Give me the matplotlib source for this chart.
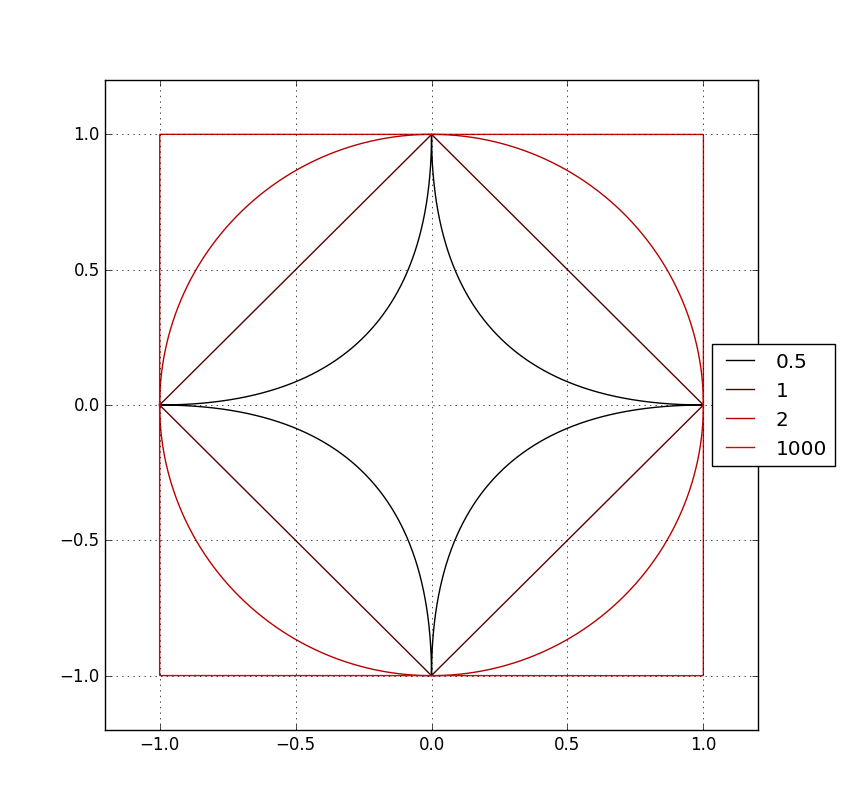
import numpy as np
import matplotlib
matplotlib.use("Agg")
from matplotlib import pyplot as plt

plt.style.use('classic')

# norm orders and their line colours
p_values = [0.5, 1, 2, 1000]
labels = ['0.5', '1', '2', '1000']
colors = ['#000000', '#580000', '#b80000', '#dd0000']

fig = plt.figure(figsize=(8.42, 8.12), dpi=100, facecolor='white')
ax = fig.add_subplot(111)

# unit ball boundary |x|^p + |y|^p = 1
x = np.sin(np.linspace(-np.pi / 2, np.pi / 2, 40001))
for p, lab, c in zip(p_values, labels, colors):
    y = np.clip(1 - np.abs(x) ** p, 0, None) ** (1.0 / p)
    xs = np.concatenate([x, x[::-1]])
    ys = np.concatenate([y, -y[::-1]])
    ax.plot(xs, ys, color=c, label=lab, linewidth=1.0)

ax.set_xlim(-1.2, 1.2)
ax.set_ylim(-1.2, 1.2)
ax.set_xticks([-1.0, -0.5, 0.0, 0.5, 1.0])
ax.set_yticks([-1.0, -0.5, 0.0, 0.5, 1.0])
ax.grid(True)
ax.legend(loc='center left', bbox_to_anchor=(0.914, 0.5))

fig.savefig('out.png', dpi=100, facecolor='white')
